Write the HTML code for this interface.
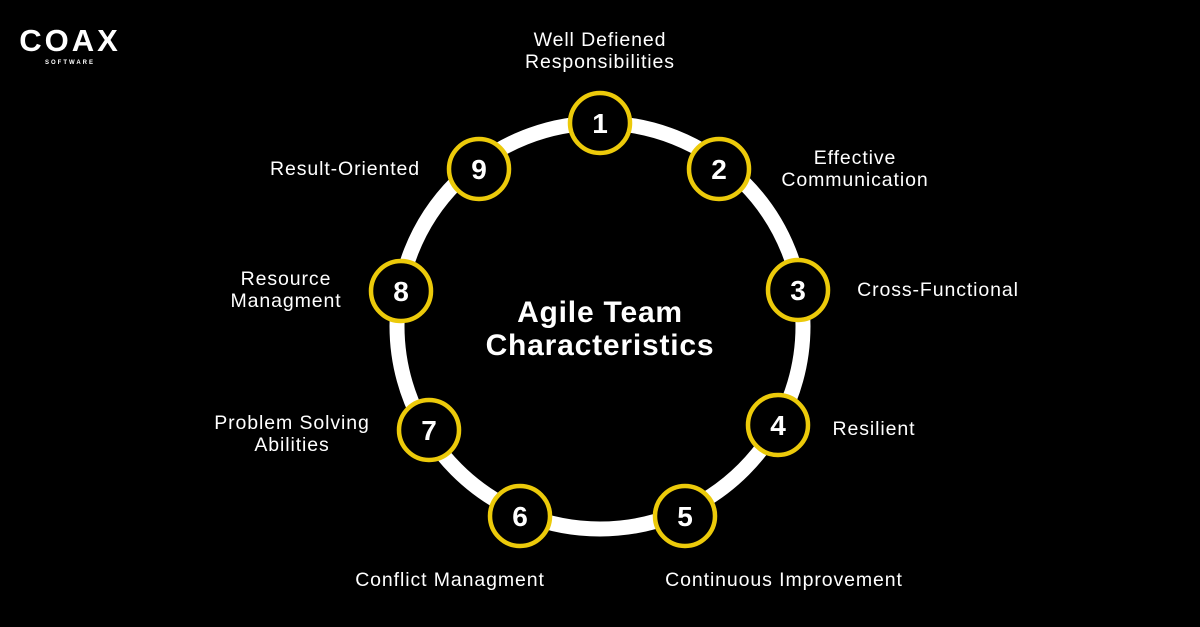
<!DOCTYPE html>
<html><head><meta charset="utf-8"><style>
body{margin:0;width:1200px;height:627px;background:#000;overflow:hidden;font-family:"Liberation Sans",sans-serif;color:#fff;position:relative}
.l{position:absolute;font-size:19.5px;line-height:22px;text-align:center;white-space:nowrap;letter-spacing:0.9px}
</style></head><body>
<svg width="1200" height="627" style="position:absolute;left:0;top:0">
<circle cx="600" cy="326" r="203" fill="none" stroke="#fff" stroke-width="15"/>
<g fill="#000" stroke="#ecca0a" stroke-width="4.5">
<circle cx="600" cy="123" r="30"/><circle cx="719" cy="169" r="30"/><circle cx="798" cy="290" r="30"/>
<circle cx="778" cy="425" r="30"/><circle cx="685" cy="516" r="30"/><circle cx="520" cy="516" r="30"/>
<circle cx="429" cy="430" r="30"/><circle cx="401" cy="291" r="30"/><circle cx="479" cy="169" r="30"/>
</g>
<g fill="#fff" font-family="Liberation Sans,sans-serif" font-weight="bold" font-size="28" text-anchor="middle">
<text x="600" y="133">1</text><text x="719" y="179">2</text><text x="798" y="300">3</text>
<text x="778" y="435">4</text><text x="685" y="526">5</text><text x="520" y="526">6</text>
<text x="429" y="440">7</text><text x="401" y="301">8</text><text x="479" y="179">9</text>
</g>
<text x="70" y="51" fill="#fff" font-family="Liberation Sans,sans-serif" font-weight="bold" font-size="31" text-anchor="middle" letter-spacing="3">COAX</text>
<text x="70" y="64" fill="#fff" font-family="Liberation Sans,sans-serif" font-weight="bold" font-size="6" text-anchor="middle" letter-spacing="2">SOFTWARE</text>
</svg>
<div class="l" style="left:450px;top:29px;width:300px">Well Defiened<br>Responsibilities</div>
<div class="l" style="left:705px;top:147px;width:300px">Effective<br>Communication</div>
<div class="l" style="left:788px;top:279px;width:300px">Cross-Functional</div>
<div class="l" style="left:724px;top:418px;width:300px">Resilient</div>
<div class="l" style="left:634px;top:569px;width:300px">Continuous Improvement</div>
<div class="l" style="left:300px;top:569px;width:300px">Conflict Managment</div>
<div class="l" style="left:142px;top:412px;width:300px">Problem Solving<br>Abilities</div>
<div class="l" style="left:136px;top:268px;width:300px">Resource<br>Managment</div>
<div class="l" style="left:195px;top:158px;width:300px">Result-Oriented</div>
<div class="l" style="left:420px;top:296px;width:360px;font-size:30px;line-height:33px;font-weight:bold;letter-spacing:0.8px">Agile Team<br>Characteristics</div>
</body></html>
